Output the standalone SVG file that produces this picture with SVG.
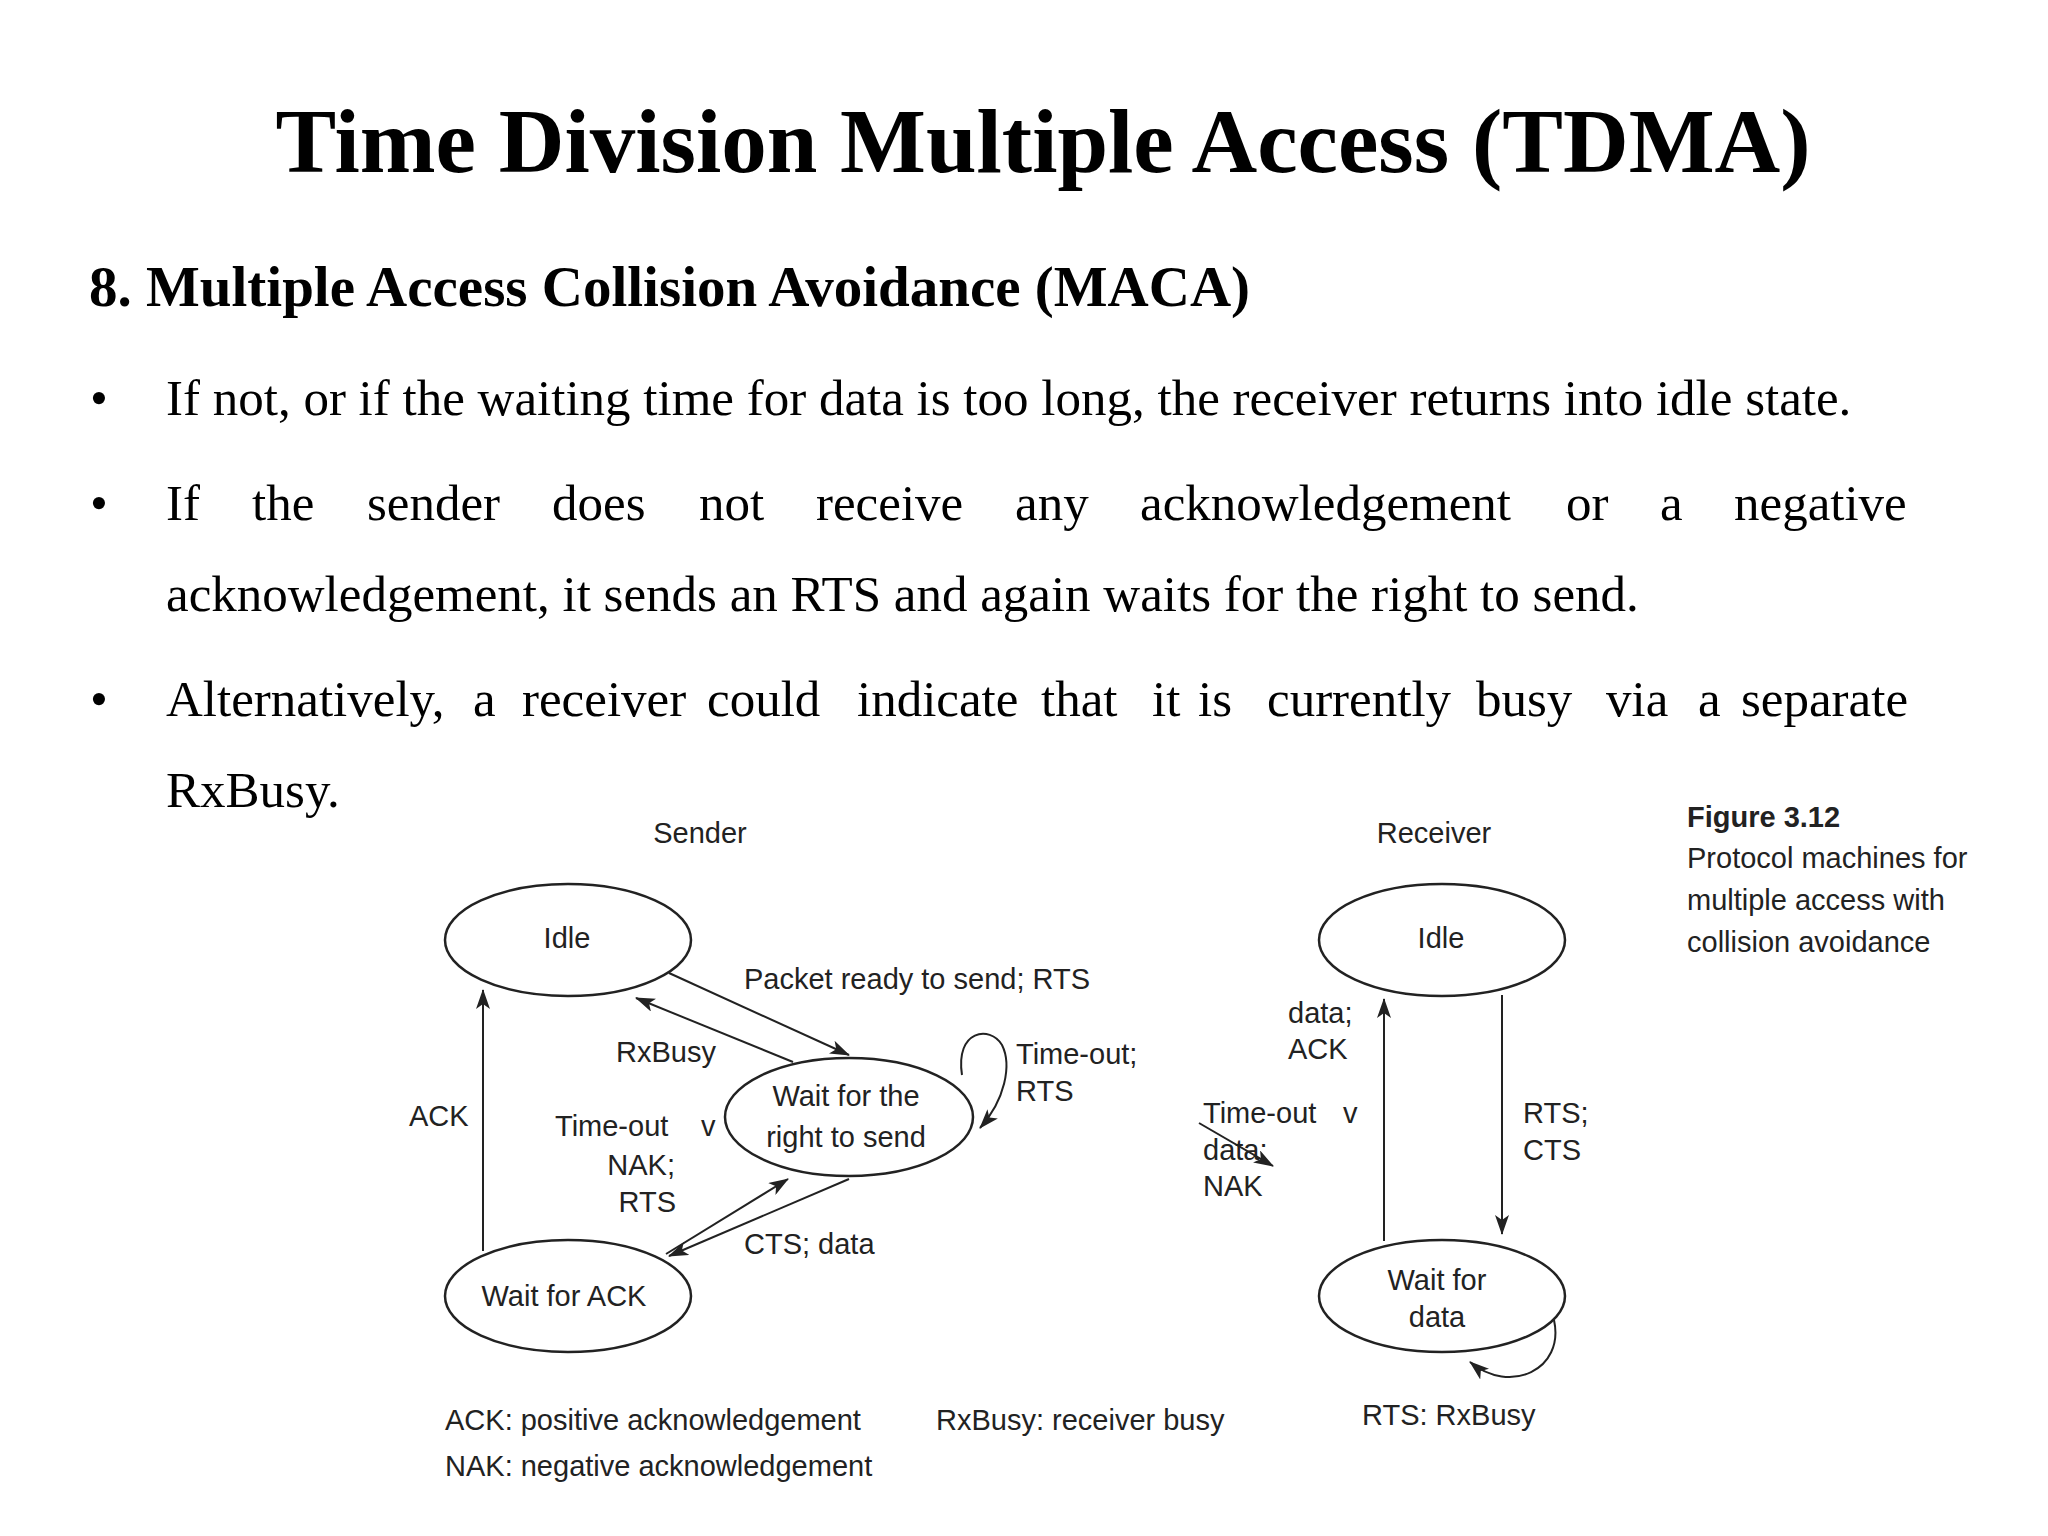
<svg xmlns="http://www.w3.org/2000/svg" width="2048" height="1536" viewBox="0 0 2048 1536">
<style>
.t{font-family:"Liberation Serif",serif;fill:#000}
.d{font-family:"Liberation Sans",Arial,sans-serif;font-size:29px;fill:#222}
.n{fill:none;stroke:#222;stroke-width:2.5}
.c{fill:none;stroke:#222;stroke-width:2}
</style>
<defs><marker id="a" markerWidth="20" markerHeight="14" refX="19" refY="7" orient="auto" markerUnits="userSpaceOnUse"><path d="M0,0 L20,7 L0,14 L5,7 Z" fill="#222"/></marker></defs>
<rect width="2048" height="1536" fill="#fff"/>
<text class="t" x="1043" y="172" font-size="91" font-weight="bold" text-anchor="middle">Time Division Multiple Access (TDMA)</text>
<text class="t" x="89" y="306" font-size="57" font-weight="bold">8. Multiple Access Collision Avoidance (MACA)</text>
<g class="t" font-size="51">
<text x="90" y="415">•</text><text x="166" y="415">If not, or if the waiting time for data is too long, the receiver returns into idle state.</text>
<text x="90" y="520">•</text>
<text y="520"><tspan x="166">If</tspan><tspan x="252">the</tspan><tspan x="367">sender</tspan><tspan x="552">does</tspan><tspan x="699">not</tspan><tspan x="816">receive</tspan><tspan x="1015">any</tspan><tspan x="1140">acknowledgement</tspan><tspan x="1566">or</tspan><tspan x="1660">a</tspan><tspan x="1734">negative</tspan></text>
<text x="166" y="611">acknowledgement, it sends an RTS and again waits for the right to send.</text>
<text x="90" y="716">•</text>
<text y="716"><tspan x="166">Alternatively,</tspan><tspan x="473">a</tspan><tspan x="522">receiver</tspan><tspan x="707">could</tspan><tspan x="857">indicate</tspan><tspan x="1041">that</tspan><tspan x="1152">it</tspan><tspan x="1198">is</tspan><tspan x="1267">currently</tspan><tspan x="1476">busy</tspan><tspan x="1606">via</tspan><tspan x="1698">a</tspan><tspan x="1741">separate</tspan></text>
<text x="166" y="807">RxBusy.</text>
</g>
<g id="labels" class="d">
<text x="700" y="843" text-anchor="middle">Sender</text>
<text x="1434" y="843" text-anchor="middle">Receiver</text>
<text x="1687" y="827" font-weight="bold">Figure 3.12</text>
<text x="1687" y="868">Protocol machines for</text>
<text x="1687" y="910">multiple access with</text>
<text x="1687" y="952">collision avoidance</text>
<text x="744" y="989">Packet ready to send; RTS</text>
<text x="616" y="1062">RxBusy</text>
<text x="1016" y="1064">Time-out;</text><text x="1016" y="1101">RTS</text>
<text x="409" y="1126">ACK</text>
<text x="555" y="1136">Time-out</text><text x="701" y="1136">v</text>
<text x="675" y="1175" text-anchor="end">NAK;</text><text x="676" y="1212" text-anchor="end">RTS</text>
<text x="744" y="1254">CTS; data</text>
<text x="445" y="1430">ACK: positive acknowledgement</text>
<text x="445" y="1476">NAK: negative acknowledgement</text>
<text x="936" y="1430">RxBusy: receiver busy</text>
<text x="1288" y="1023">data;</text><text x="1288" y="1059">ACK</text>
<text x="1203" y="1123">Time-out</text><text x="1343" y="1123">v</text>
<text x="1203" y="1160">data;</text><text x="1203" y="1196">NAK</text>
<text x="1523" y="1123">RTS;</text><text x="1523" y="1160">CTS</text>
<text x="1362" y="1425">RTS: RxBusy</text>
</g>
<g id="s-idle"><ellipse class="n" cx="568" cy="940" rx="123" ry="56"/><text class="d" x="567" y="948" text-anchor="middle">Idle</text></g>
<g id="s-wait-rts"><ellipse class="n" cx="849" cy="1117" rx="124" ry="59"/><text class="d" x="846" y="1106" text-anchor="middle">Wait for the</text><text class="d" x="846" y="1147" text-anchor="middle">right to send</text></g>
<g id="s-wait-ack"><ellipse class="n" cx="568" cy="1296" rx="123" ry="56"/><text class="d" x="564" y="1306" text-anchor="middle">Wait for ACK</text></g>
<g id="r-idle"><ellipse class="n" cx="1442" cy="940" rx="123" ry="56"/><text class="d" x="1441" y="948" text-anchor="middle">Idle</text></g>
<g id="r-wait-data"><ellipse class="n" cx="1442" cy="1296" rx="123" ry="56"/><text class="d" x="1437" y="1290" text-anchor="middle">Wait for</text><text class="d" x="1437" y="1327" text-anchor="middle">data</text></g>
<g id="connectors" marker-end="url(#a)">
<path class="c" d="M483 1251 L483 990"/>
<path class="c" d="M669 973 L849 1055"/>
<path class="c" d="M793 1062 L636 998"/>
<path class="c" d="M666 1254 L788 1179"/>
<path class="c" d="M849 1179 L669 1256"/>
<path class="c" d="M962 1075 C955 1030 990 1025 1002 1045 C1012 1065 1005 1100 980 1128"/>
<path class="c" d="M1384 1241 L1384 999"/>
<path class="c" d="M1502 995 L1502 1234"/>
<path class="c" d="M1554 1320 C1565 1370 1510 1395 1470 1362"/>
<path class="c" d="M1199 1123 L1273 1166"/>
</g>
</svg>
